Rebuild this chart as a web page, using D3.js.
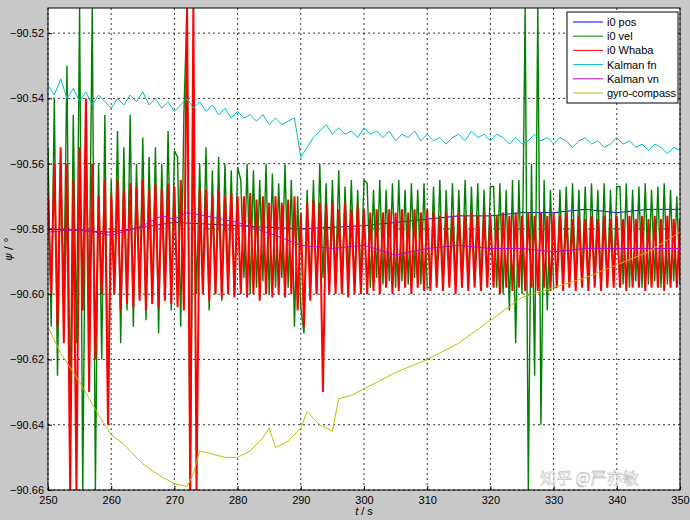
<!DOCTYPE html><html><head><meta charset="utf-8"><script src="https://d3js.org/d3.v7.min.js"></script>
<style>body{margin:0;background:#c8c8c8}</style></head><body><svg id="c" width="690" height="520"></svg><script>
const xTicks=[250,260,270,280,290,300,310,320,330,340,350];
const yTicks=[-90.52,-90.54,-90.56,-90.58,-90.6,-90.62,-90.64,-90.66];
const seriesNames=["i0 pos","i0 vel","i0 Whaba","Kalman fn","Kalman vn","gyro-compass"];
const seriesColors=["#0000ff","#008000","#ff0000","#00bfbf","#bf00bf","#bfbf00"];
const velVals=[-90.555,-90.610,-90.540,-90.625,-90.560,-90.600,-90.530,-90.640,-90.545,-90.615,-90.512,-90.660,-90.550,-90.605,-90.512,-90.660,-90.560,-90.620,-90.545,-90.640,-90.565,
-90.600,-90.550,-90.615,-90.555,-90.605,-90.545,-90.610,-90.560,-90.600,-90.552,-90.608,-90.558,-90.603,-90.555,-90.612,-90.560,-90.600,-90.550,-90.605,-90.556,
-90.558,-90.610,-90.545,-90.512,-90.660,-90.555,-90.600,-90.560,-90.598,-90.555,-90.605,-90.562,-90.600,-90.558,-90.602,-90.560,-90.597,-90.562,-90.600,-90.561,
-90.565,-90.595,-90.560,-90.600,-90.562,-90.598,-90.565,-90.596,-90.560,-90.600,-90.563,-90.598,-90.566,-90.595,-90.560,-90.598,-90.565,-90.610,-90.570,-90.604,
-90.612,-90.568,-90.598,-90.565,-90.600,-90.560,-90.595,-90.566,-90.598,-90.565,-90.596,-90.562,-90.600,-90.567,-90.595,-90.565,-90.598,-90.568,-90.596,-90.565,
-90.566,-90.598,-90.568,-90.595,-90.565,-90.597,-90.568,-90.596,-90.566,-90.598,-90.565,-90.596,-90.568,-90.597,-90.566,-90.595,-90.568,-90.597,-90.566,-90.598,
-90.598,-90.567,-90.596,-90.565,-90.598,-90.568,-90.595,-90.566,-90.597,-90.568,-90.596,-90.565,-90.598,-90.567,-90.596,-90.566,-90.598,-90.568,-90.596,-90.567,
-90.567,-90.598,-90.566,-90.600,-90.568,-90.605,-90.565,-90.615,-90.565,-90.600,-90.512,-90.660,-90.560,-90.625,-90.512,-90.640,-90.565,-90.605,-90.568,-90.598,
-90.598,-90.568,-90.596,-90.567,-90.597,-90.566,-90.598,-90.568,-90.596,-90.567,-90.598,-90.566,-90.596,-90.568,-90.597,-90.566,-90.598,-90.568,-90.596,-90.567,
-90.567,-90.597,-90.566,-90.598,-90.568,-90.596,-90.567,-90.598,-90.566,-90.597,-90.568,-90.596,-90.567,-90.598,-90.566,-90.597,-90.568,-90.596,-90.570,-90.597];
const whabaVals=[-90.570,-90.600,-90.560,-90.610,-90.555,-90.615,-90.560,-90.660,-90.565,-90.660,-90.555,-90.605,-90.540,-90.630,-90.560,-90.620,-90.570,-90.600,-90.565,-90.640,-90.570,
-90.600,-90.565,-90.605,-90.568,-90.603,-90.566,-90.604,-90.567,-90.602,-90.565,-90.605,-90.568,-90.603,-90.566,-90.604,-90.568,-90.602,-90.566,-90.603,-90.567,
-90.604,-90.565,-90.605,-90.512,-90.660,-90.512,-90.660,-90.568,-90.600,-90.568,-90.602,-90.570,-90.600,-90.568,-90.601,-90.570,-90.600,-90.569,-90.601,-90.570,
-90.600,-90.570,-90.601,-90.569,-90.600,-90.571,-90.602,-90.570,-90.600,-90.572,-90.601,-90.570,-90.600,-90.572,-90.601,-90.571,-90.600,-90.570,-90.605,-90.575,
-90.610,-90.572,-90.602,-90.571,-90.600,-90.572,-90.630,-90.573,-90.600,-90.572,-90.600,-90.574,-90.600,-90.572,-90.601,-90.574,-90.600,-90.573,-90.600,-90.574,
-90.600,-90.575,-90.599,-90.574,-90.600,-90.575,-90.598,-90.574,-90.600,-90.575,-90.599,-90.574,-90.598,-90.575,-90.600,-90.574,-90.598,-90.575,-90.599,-90.574,
-90.599,-90.575,-90.598,-90.576,-90.599,-90.575,-90.598,-90.576,-90.600,-90.575,-90.598,-90.576,-90.599,-90.575,-90.598,-90.576,-90.599,-90.575,-90.598,-90.576,
-90.598,-90.576,-90.600,-90.575,-90.598,-90.576,-90.599,-90.575,-90.598,-90.576,-90.599,-90.575,-90.598,-90.576,-90.599,-90.575,-90.598,-90.576,-90.599,-90.575,
-90.598,-90.576,-90.599,-90.575,-90.598,-90.577,-90.599,-90.576,-90.598,-90.577,-90.599,-90.576,-90.598,-90.577,-90.599,-90.576,-90.598,-90.577,-90.598,-90.576,
-90.598,-90.577,-90.599,-90.576,-90.598,-90.577,-90.598,-90.576,-90.599,-90.577,-90.598,-90.576,-90.598,-90.577,-90.599,-90.576,-90.598,-90.577,-90.598,-90.577];
const fnVals=[-90.536,-90.539,-90.534,-90.540,-90.537,-90.541,-90.538,-90.542,-90.539,-90.541,
-90.543,-90.540,-90.542,-90.539,-90.541,-90.538,-90.542,-90.540,-90.543,-90.541,
-90.544,-90.542,-90.540,-90.543,-90.541,-90.544,-90.542,-90.545,-90.543,-90.546,
-90.544,-90.546,-90.545,-90.547,-90.545,-90.548,-90.546,-90.548,-90.547,-90.546,
-90.558,-90.555,-90.552,-90.550,-90.548,-90.551,-90.549,-90.551,-90.550,-90.552,
-90.549,-90.551,-90.550,-90.552,-90.550,-90.553,-90.551,-90.552,-90.550,-90.553,
-90.551,-90.553,-90.552,-90.554,-90.552,-90.551,-90.553,-90.550,-90.552,-90.551,
-90.553,-90.551,-90.552,-90.554,-90.552,-90.554,-90.553,-90.551,-90.553,-90.552,
-90.554,-90.552,-90.553,-90.555,-90.553,-90.552,-90.554,-90.553,-90.555,-90.554,
-90.552,-90.554,-90.553,-90.555,-90.554,-90.556,-90.554,-90.555,-90.557,-90.555,-90.556];
const vnT=[250,255,260,265,268,270,272,275,280,283,286,290,295,300,305,310,315,320,325,330,335,340,345,350];
const vnV=[-90.581,-90.580,-90.582,-90.579,-90.576,-90.577,-90.575,-90.576,-90.578,-90.580,-90.582,-90.585,-90.586,-90.585,-90.588,-90.586,-90.585,-90.586,-90.586,-90.587,-90.586,-90.586,-90.586,-90.586];
const posT=[250,260,270,280,290,300,310,315,320,325,330,335,340,345,350];
const posV=[-90.580,-90.581,-90.578,-90.579,-90.580,-90.579,-90.577,-90.576,-90.576,-90.575,-90.575,-90.574,-90.575,-90.574,-90.574];
const gyT=[250,252,255,258,260,262,265,268,270,272,273,274,276,278,280,282,284,285,286,288,290,291,293,295,296,298,300,305,310,315,320,325,330,335,340,345,350];
const gyV=[-90.610,-90.618,-90.627,-90.637,-90.643,-90.646,-90.652,-90.656,-90.658,-90.659,-90.655,-90.648,-90.649,-90.650,-90.650,-90.648,-90.644,-90.641,-90.647,-90.645,-90.641,-90.636,-90.640,-90.642,-90.632,-90.631,-90.629,-90.624,-90.620,-90.615,-90.608,-90.601,-90.598,-90.595,-90.591,-90.587,-90.581];

const L=48,R=680,T=8,B=490;
const x=d3.scaleLinear().domain([250,350]).range([L,R]);
const y=d3.scaleLinear().domain([-90.66,-90.5123]).range([B,T]);
const svg=d3.select("#c");
svg.append("rect").attr("x",L).attr("y",T).attr("width",R-L).attr("height",B-T).attr("fill","#fff");
const g=svg.append("g");
xTicks.forEach(t=>g.append("line").attr("x1",x(t)).attr("x2",x(t)).attr("y1",T).attr("y2",B).attr("stroke","#000").attr("stroke-dasharray","2,3").attr("stroke-width",0.8));
yTicks.forEach(t=>g.append("line").attr("y1",y(t)).attr("y2",y(t)).attr("x1",L).attr("x2",R).attr("stroke","#000").attr("stroke-dasharray","2,3").attr("stroke-width",0.8));
svg.append("clipPath").attr("id","cp").append("rect").attr("x",L).attr("y",T).attr("width",R-L).attr("height",B-T);
const line=d3.line().x(d=>x(d[0])).y(d=>y(d[1]));
const even=v=>v.map((d,i)=>[250+i*100/(v.length-1),d]);
const zip=(t,v)=>t.map((d,i)=>[d,v[i]]);
const data=[zip(posT,posV),even(velVals),even(whabaVals),even(fnVals),zip(vnT,vnV),zip(gyT,gyV)];
const widths=[1,1.4,2,1,1,1];
const order=[0,1,2,3,4,5];
const pg=svg.append("g").attr("clip-path","url(#cp)");
order.forEach(i=>pg.append("path").attr("d",line(data[i])).attr("fill","none").attr("stroke",seriesColors[i]).attr("stroke-width",widths[i]));
svg.append("g").attr("transform",`translate(0,${B})`).call(d3.axisBottom(x).tickValues(xTicks).tickSize(-4).tickPadding(6)).call(a=>a.select(".domain").remove());
svg.append("g").attr("transform",`translate(${L},0)`).call(d3.axisLeft(y).tickValues(yTicks).tickFormat(d3.format(".2f")).tickSize(-4).tickPadding(4)).call(a=>a.select(".domain").remove());
svg.append("rect").attr("x",L).attr("y",T).attr("width",R-L).attr("height",B-T).attr("fill","none").attr("stroke","#000");
svg.selectAll(".tick text").attr("font-family","Liberation Sans, Arial").attr("font-size",11).attr("fill","#000");
svg.append("text").attr("x",364).attr("y",515).attr("text-anchor","middle").attr("font-family","Liberation Sans").attr("font-size",11).html('<tspan font-style="italic">t</tspan>  / s');
svg.append("text").attr("transform","translate(12,249) rotate(-90)").attr("text-anchor","middle").attr("font-family","DejaVu Sans").attr("font-size",11).html('<tspan font-style="italic">ψ</tspan> / °');
const lg=svg.append("g").attr("transform","translate(567,12)");
lg.append("rect").attr("width",111).attr("height",91).attr("fill","#fff").attr("stroke","#000");
seriesNames.forEach((n,i)=>{const yy=10+i*14.2;
lg.append("line").attr("x1",6).attr("x2",36).attr("y1",yy).attr("y2",yy).attr("stroke",seriesColors[i]);
lg.append("text").attr("x",40).attr("y",yy+4).attr("font-family","Liberation Sans").attr("font-size",11).text(n);});
svg.append("text").attr("x",540).attr("y",484).attr("font-family","Noto Sans CJK SC").attr("font-size",16).attr("fill","#fff").attr("opacity",0.85).attr("stroke","#999").attr("stroke-width",0.4).text("知乎 @严亦敏");
</script></body></html>
